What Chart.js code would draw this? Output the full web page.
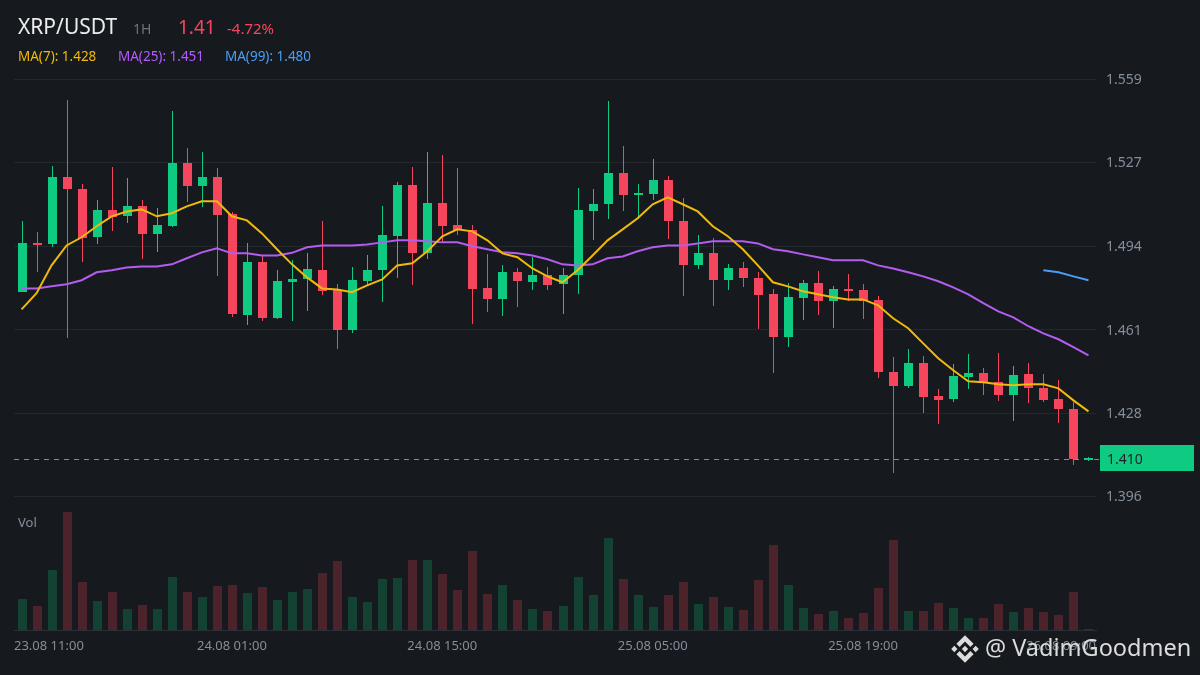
<!DOCTYPE html>
<html>
<head>
<meta charset="utf-8">
<title>XRP/USDT</title>
<script src="https://cdn.jsdelivr.net/npm/chart.js@4"></script>
<style>
  html, body { margin: 0; padding: 0; background: #161a1e; }
  #wrap { position: relative; width: 1200px; height: 675px; overflow: hidden; font-family: "Noto Sans", sans-serif; }
  canvas { position: absolute; left: 0; top: 0; }
  .txt { position: absolute; white-space: nowrap; line-height: 1; }
  #mark { position: absolute; left: 951px; top: 635px; width: 28px; height: 28px; }
</style>
</head>
<body>
<div id="wrap">
  <canvas id="chart" width="1200" height="675"></canvas>
  <span class="txt" style="left:18px;top:16px;font-size:21px;color:#eaecef">XRP/USDT</span>
  <span class="txt" style="left:133px;top:22px;font-size:14px;color:#6b7280">1H</span>
  <span class="txt" style="left:178px;top:18px;font-size:19px;color:#f6465d">1.41</span>
  <span class="txt" style="left:227px;top:21px;font-size:15px;color:#f6465d">-4.72%</span>
  <span class="txt" style="left:18px;top:50px;font-size:13.5px;color:#f0b90b">MA(7): 1.428</span>
  <span class="txt" style="left:118px;top:50px;font-size:13.5px;color:#b659ff">MA(25): 1.451</span>
  <span class="txt" style="left:225px;top:50px;font-size:13.5px;color:#4a9ef5">MA(99): 1.480</span>
  <span class="txt" style="left:18px;top:516px;font-size:13px;color:#848e9c">Vol</span>
  <svg id="mark" viewBox="0 0 32 32"><path fill="#dcdcdc" d="M9.8 13.6 16 7.4l6.2 6.2 3.6-3.6L16 .2 6.2 10zM.2 16l3.6-3.6L7.4 16l-3.6 3.6zM9.8 18.4 16 24.6l6.2-6.2 3.6 3.6L16 31.8 6.2 22zM24.6 16l3.6-3.6 3.6 3.6-3.6 3.6zM19.6 16 16 12.4l-3.6 3.6 3.6 3.6z"/></svg>
  <span class="txt" style="left:985px;top:636px;font-size:23.5px;color:#dcdcdc">@ VadimGoodmen</span>
</div>
<script>
// Hourly candles
const opens = [1.4758,1.4949,1.4945,1.5207,1.5160,1.4973,1.5078,1.5055,1.5094,1.4984,1.5016,1.5262,1.5172,1.5207,1.5063,1.4668,1.4875,1.4656,
  1.4797,1.4808,1.4844,1.4765,1.4609,1.4801,1.4844,1.4977,1.5176,1.4910,1.5106,1.5020,1.5000,1.4773,1.4730,1.4836,1.4797,1.4824,
  1.4789,1.4824,1.5074,1.5102,1.5223,1.5137,1.5141,1.5196,1.5035,1.4863,1.4910,1.4805,1.4851,1.4812,1.4750,1.4582,1.4734,1.4793,
  1.4722,1.4769,1.4765,1.4726,1.4445,1.4390,1.4480,1.4351,1.4339,1.4425,1.4441,1.4406,1.4355,1.4437,1.4382,1.4339,1.4300,1.4101];
const highs = [1.5035,1.4992,1.5250,1.5508,1.5180,1.5117,1.5246,1.5203,1.5117,1.5086,1.5465,1.5321,1.5305,1.5243,1.5070,1.4949,1.4902,1.4844,
  1.4883,1.4910,1.5035,1.4789,1.4855,1.4902,1.5094,1.5188,1.5246,1.5305,1.5293,1.5243,1.5020,1.4906,1.4863,1.4851,1.4895,1.4855,
  1.4851,1.5164,1.5160,1.5504,1.5329,1.5180,1.5278,1.5211,1.5125,1.4981,1.4969,1.4867,1.4875,1.4836,1.4769,1.4793,1.4805,1.4840,
  1.4781,1.4828,1.4789,1.4742,1.4504,1.4535,1.4507,1.4378,1.4476,1.4515,1.4461,1.4519,1.4468,1.4480,1.4437,1.4414,1.4328,1.4112];
const lows = [1.4758,1.4836,1.4934,1.4578,1.4875,1.4945,1.4996,1.5027,1.4887,1.4914,1.5012,1.5110,1.5090,1.4820,1.4660,1.4629,1.4644,1.4652,
  1.4644,1.4683,1.4746,1.4535,1.4597,1.4785,1.4719,1.4812,1.4785,1.4887,1.4953,1.4981,1.4633,1.4679,1.4664,1.4699,1.4765,1.4765,
  1.4672,1.4750,1.4961,1.5043,1.5074,1.5043,1.5117,1.4965,1.4742,1.4848,1.4703,1.4765,1.4777,1.4613,1.4441,1.4543,1.4648,1.4668,
  1.4617,1.4722,1.4652,1.4421,1.4050,1.4382,1.4285,1.4242,1.4328,1.4378,1.4355,1.4332,1.4253,1.4324,1.4328,1.4245,1.4081,1.4097];
const closes = [1.4949,1.4941,1.5207,1.5160,1.4969,1.5078,1.5051,1.5094,1.4984,1.5020,1.5262,1.5172,1.5207,1.5059,1.4672,1.4875,1.4656,1.4801,
  1.4808,1.4848,1.4762,1.4609,1.4805,1.4844,1.4981,1.5176,1.4910,1.5106,1.5016,1.5000,1.4769,1.4730,1.4836,1.4801,1.4824,1.4785,
  1.4824,1.5078,1.5102,1.5223,1.5137,1.5145,1.5196,1.5035,1.4863,1.4910,1.4805,1.4851,1.4812,1.4746,1.4582,1.4738,1.4793,1.4722,
  1.4769,1.4762,1.4722,1.4445,1.4390,1.4480,1.4347,1.4335,1.4429,1.4441,1.4406,1.4355,1.4433,1.4382,1.4335,1.4300,1.4105,1.4109];

// Moving averages
const ma7 = [1.4691,1.4754,1.4863,1.4941,1.4973,1.5016,1.5055,1.5074,1.5082,1.5055,1.5067,1.5094,1.5114,1.5114,1.5055,1.5039,1.4988,1.4926,
  1.4867,1.4816,1.4773,1.4769,1.4758,1.4785,1.4808,1.4863,1.4871,1.4918,1.4977,1.5004,1.4996,1.4961,1.4910,1.4895,1.4851,1.4820,
  1.4797,1.4844,1.4902,1.4961,1.5004,1.5047,1.5102,1.5129,1.5102,1.5074,1.5016,1.4977,1.4926,1.4863,1.4797,1.4781,1.4762,1.4750,
  1.4738,1.4730,1.4730,1.4707,1.4656,1.4617,1.4558,1.4500,1.4453,1.4410,1.4406,1.4398,1.4394,1.4398,1.4398,1.4382,1.4335,1.4292];
const ma25 = [1.4773,1.4773,1.4781,1.4789,1.4805,1.4836,1.4844,1.4855,1.4859,1.4859,1.4867,1.4891,1.4914,1.4930,1.4910,1.4910,1.4902,1.4902,
  1.4912,1.4934,1.4941,1.4941,1.4941,1.4945,1.4953,1.4961,1.4961,1.4957,1.4953,1.4953,1.4938,1.4926,1.4914,1.4910,1.4902,1.4887,
  1.4867,1.4863,1.4867,1.4891,1.4898,1.4918,1.4934,1.4941,1.4941,1.4949,1.4957,1.4957,1.4957,1.4949,1.4926,1.4918,1.4906,1.4895,
  1.4883,1.4883,1.4883,1.4863,1.4851,1.4836,1.4820,1.4801,1.4777,1.4750,1.4715,1.4683,1.4660,1.4625,1.4597,1.4574,1.4543,1.4511];
const ma99Tail = [1.4844,1.4836,1.4820,1.4805];
const ma99 = opens.map((_, i) => i < opens.length - ma99Tail.length ? null : ma99Tail[i - opens.length + ma99Tail.length]);

// Volume in millions
const volumes = [8.57,6.66,16.50,32.37,13.22,8.02,10.48,5.83,6.93,5.83,14.59,10.48,9.12,12.13,12.40,10.21,11.85,8.30,
  10.48,11.31,15.68,18.96,9.12,7.75,14.04,14.31,19.24,19.24,15.41,11.03,21.70,9.94,12.40,8.30,5.83,5.29,
  6.66,14.59,9.66,25.25,14.04,9.66,6.38,9.66,13.22,7.20,9.12,6.38,5.56,13.77,23.34,12.40,6.11,4.47,
  5.29,3.37,4.74,11.58,24.71,5.29,5.29,7.48,6.11,3.37,3.37,7.20,5.01,6.11,5.01,4.19,10.48,0.27];

// Tick labels
const priceTicks = [1.396,1.4284,1.4611,1.4938,1.5266,1.559];
const volTicks = [29.81];
const timeLabels = ['23.08 11:00','24.08 01:00','24.08 15:00','25.08 05:00','25.08 19:00','26.08 09:00'];
const labelEvery = 14;
const lastPrice = 1.4104;

const GREEN = '#0ecb81', RED = '#f6465d', GREEN_DIM = '#144232', RED_DIM = '#4c232b';
const GREY = '#848e9c', GRID = '#24282d';
const FONT = '"Noto Sans", sans-serif';

const up = closes.map((c, i) => c >= opens[i]);
const candleColors = up.map(u => u ? GREEN : RED);
const volColors = up.map(u => u ? GREEN_DIM : RED_DIM);
const categories = opens.map((_, i) => i % labelEvery === 0 ? timeLabels[i / labelEvery] : '');

// Snap bars to whole pixels so wicks stay 1px and bodies stay crisp
const snapBars = {
  id: 'snapBars',
  beforeDatasetsDraw(chart) {
    chart.getSortedVisibleDatasetMetas().filter(m => m.type === 'bar').forEach(m => {
      m.data.forEach(el => {
        el.x = Math.round(el.x) + 0.5;
        el.y = Math.round(el.y);
        el.base = Math.round(el.base);
      });
    });
  }
};

// Draws the last-price line and tag, plus time labels kept inside the plot width
const overlay = {
  id: 'overlay',
  afterDatasetsDraw(chart) {
    const { ctx, chartArea, scales } = chart;
    const y = Math.floor(scales.y.getPixelForValue(lastPrice));
    ctx.save();
    ctx.strokeStyle = GREEN;
    ctx.lineWidth = 1;
    ctx.setLineDash([5, 5]);
    ctx.beginPath();
    ctx.moveTo(chartArea.left, y + 0.5);
    ctx.lineTo(1100, y + 0.5);
    ctx.stroke();
    ctx.setLineDash([]);

    ctx.fillStyle = GREEN;
    ctx.fillRect(1100, y - 14, 94, 26);
    ctx.fillStyle = '#1e2329';
    ctx.font = '14px ' + FONT;
    ctx.textAlign = 'left';
    ctx.textBaseline = 'middle';
    ctx.fillText(lastPrice.toFixed(3), 1107, y + 1);

    ctx.fillStyle = GREY;
    ctx.font = '13px ' + FONT;
    categories.forEach((label, i) => {
      if (!label) return;
      const w = ctx.measureText(label).width;
      let x = scales.x.getPixelForValue(i) - w / 2;
      x = Math.max(chartArea.left, Math.min(chartArea.right - w, x));
      ctx.fillText(label, x, 646);
    });
    ctx.restore();
  }
};

new Chart(document.getElementById('chart'), {
  type: 'bar',
  data: {
    labels: categories,
    datasets: [
      { label: 'Vol', data: volumes, yAxisID: 'v', backgroundColor: volColors, barThickness: 9, order: 6 },
      { label: 'Wick', data: lows.map((l, i) => [l, highs[i]]), backgroundColor: candleColors, barThickness: 1, order: 5 },
      { label: 'Body', data: opens.map((o, i) => [o, closes[i]]), backgroundColor: candleColors, barThickness: 9, order: 4 },
      { type: 'line', label: 'MA(99)', data: ma99, borderColor: '#4a9ef5', order: 3 },
      { type: 'line', label: 'MA(25)', data: ma25, borderColor: '#b35cf0', order: 2 },
      { type: 'line', label: 'MA(7)', data: ma7, borderColor: '#f0b90b', order: 1 }
    ]
  },
  options: {
    responsive: false,
    animation: false,
    events: [],
    layout: { padding: { left: 14, top: 79.5, right: 0, bottom: 45 } },
    datasets: {
      bar: { grouped: false, inflateAmount: 0, borderWidth: 0 },
      line: { borderWidth: 2, pointRadius: 0, tension: 0, spanGaps: false }
    },
    plugins: { legend: { display: false }, tooltip: { enabled: false } },
    scales: {
      x: {
        grid: { display: false },
        border: { color: '#2b2f36' },
        ticks: { display: false, autoSkip: false },
        afterFit(s) { s.height = 0; }
      },
      y: {
        position: 'right',
        weight: 1,
        min: 1.3437,
        max: 1.559,
        grid: { color: GRID, drawTicks: false },
        border: { display: false },
        ticks: { color: GREY, font: { family: FONT, size: 14 }, padding: 10, labelOffset: 1, autoSkip: false, callback: v => v.toFixed(3) },
        afterBuildTicks(s) { s.ticks = priceTicks.map(value => ({ value })); },
        afterFit(s) { s.width = 104; }
      },
      v: {
        position: 'right',
        weight: 0,
        min: 0,
        max: 150.6,
        grid: { display: false, drawTicks: false },
        border: { display: false },
        ticks: { color: GREY, font: { family: FONT, size: 14 }, padding: 10, labelOffset: 1, autoSkip: false, callback: v => v.toFixed(2) + 'M' },
        afterBuildTicks(s) { s.ticks = volTicks.map(value => ({ value })); },
        afterFit(s) { s.width = 0; }
      }
    }
  },
  plugins: [snapBars, overlay]
});
</script>
</body>
</html>
